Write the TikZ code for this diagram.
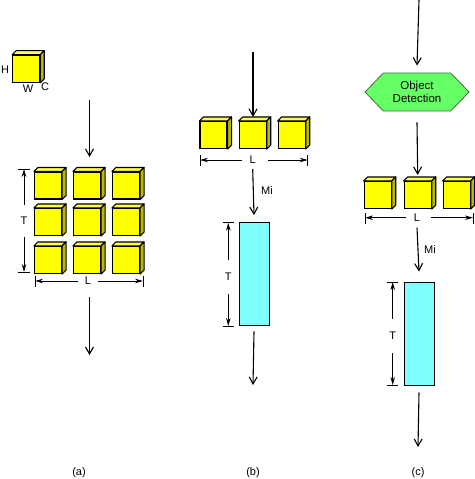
\documentclass[tikz,border=0pt]{standalone}
\usepackage{fontspec}
\setmainfont{Liberation Sans}
\usetikzlibrary{arrows.meta,shapes.symbols}
\definecolor{cubey}{RGB}{255,255,0}
\definecolor{cubeside}{RGB}{185,185,0}
\definecolor{cubetop}{RGB}{255,255,80}
\definecolor{barcyan}{RGB}{128,255,255}
\definecolor{hexgreen}{RGB}{102,255,102}
\definecolor{hexborder}{RGB}{60,110,60}
\newcommand\mycube[3]{%
  \node[cubefront] (#1) at (#2,#3) {};
  \filldraw[cubetopf] (#1.north west) -- ++(4,-4) -- ([shift={(4,-4)}]#1.north east) -- (#1.north east) -- cycle;
  \filldraw[cubesidef] (#1.north east) -- ++(4,-4) -- ([shift={(4,-4)}]#1.south east) -- (#1.south east) -- cycle;}
\begin{document}
\begin{tikzpicture}[x=1pt,y=-1pt,
  lbl/.style={font=\fontsize{11}{13}\selectfont, inner sep=1pt},
  cubefront/.style={draw, fill=cubey, line width=1.1pt, minimum width=27, minimum height=27, inner sep=0pt},
  cubetopf/.style={draw, fill=cubetop, line width=1.1pt, line join=round},
  cubesidef/.style={draw, fill=cubeside, line width=1.1pt, line join=round},
  barbox/.style={draw, fill=barcyan, line width=1pt, minimum width=30, inner sep=0pt},
  flow/.style={-{Straight Barb[length=7pt,width=8pt]}, line width=1.1pt},
  dimarr/.style={-{Stealth[length=8pt,width=4.5pt]}, line width=0.9pt},
  tickl/.style={line width=0.9pt},
  hexnode/.style={signal, signal to=west and east, signal pointer angle=92, draw=hexborder, fill=hexgreen, line width=0.8pt, minimum width=104, minimum height=38, align=center, inner sep=1pt, font=\fontsize{11.5}{13.5}\selectfont}]
\path[use as bounding box] (0,0) rectangle (474,479);

% ---------- legend cube ----------
\mycube{c0}{26.2}{68.7}
\node[lbl] (lH) at (5,70) {H};
\node[lbl] (lW) at (28,89) {W};
\node[lbl] (lC) at (45,87) {C};

% ---------- (a) ----------
\coordinate (a0) at (89.5,100);
\coordinate (a1) at (89.5,157);
\draw[flow] (a0) -- (a1);
\mycube{a11}{48}{185.5}
\mycube{a12}{87}{185.5}
\mycube{a13}{126}{185.5}
\mycube{a21}{48}{222}
\mycube{a22}{87}{222}
\mycube{a23}{126}{222}
\mycube{a31}{48}{260}
\mycube{a32}{87}{260}
\mycube{a33}{126}{260}
% T dimension
\coordinate (aTt) at (24,169);
\coordinate (aTb) at (24,272);
\node[lbl] (aT) at (24,221) {T};
\draw[tickl] ([xshift=-6]aTt) -- ([xshift=6]aTt);
\draw[tickl] ([xshift=-6]aTb) -- ([xshift=6]aTb);
\draw[dimarr] ([yshift=16]aT.center) -- (aTt);
\draw[dimarr] ([yshift=-16]aT.center) -- (aTb);
% L dimension
\coordinate (aLl) at (35,281);
\coordinate (aLr) at (143,281);
\node[lbl] (aL) at (88,281) {L};
\draw[tickl] ([yshift=5]aLl) -- ([yshift=-6]aLl);
\draw[tickl] ([yshift=5]aLr) -- ([yshift=-6]aLr);
\draw[dimarr] ([xshift=-10]aL.center) -- (aLl);
\draw[dimarr] ([xshift=10]aL.center) -- (aLr);
\coordinate (a2) at (89.5,297);
\coordinate (a3) at (89.5,355);
\draw[flow] (a2) -- (a3);
\node[lbl] (capa) at (79,473) {(a)};

% ---------- (b) ----------
\coordinate (b0) at (253,52);
\coordinate (b1) at (253,117);
\draw[flow] (b0) -- (b1);
\mycube{b11}{213.5}{135}
\mycube{b12}{252.7}{135}
\mycube{b13}{291.7}{135}
\coordinate (bLl) at (200,160);
\coordinate (bLr) at (307.7,160);
\node[lbl] (bL) at (252.7,160) {L};
\draw[tickl] ([yshift=5]bLl) -- ([yshift=-6]bLl);
\draw[tickl] ([yshift=5]bLr) -- ([yshift=-6]bLr);
\draw[dimarr] ([xshift=-11]bL.center) -- (bLl);
\draw[dimarr] ([xshift=15]bL.center) -- (bLr);
\node[barbox, minimum height=103.3] (bbar) at (254,274.3) {};
\draw[flow] ([yshift=-9]bL.center) -- ([yshift=7]bbar.north);
\node[lbl] (bMi) at (267,191) {Mi};
\coordinate (bTt) at (228.3,222.7);
\coordinate (bTb) at (228.3,326);
\node[lbl] (bT) at (228.3,277) {T};
\draw[tickl] ([xshift=-5.5]bTt) -- ([xshift=5.5]bTt);
\draw[tickl] ([xshift=-5.5]bTb) -- ([xshift=5.5]bTb);
\draw[dimarr] ([yshift=17]bT.center) -- (bTt);
\draw[dimarr] ([yshift=-17]bT.center) -- (bTb);
\coordinate (b3) at (253,385);
\draw[flow] ([yshift=-5]bbar.south) -- (b3);
\node[lbl] (capb) at (253,473) {(b)};

% ---------- (c) ----------
\node[hexnode] (od) at (417,92) {Object\\Detection};
\coordinate (c0) at (419,0);
\draw[flow] (c0) -- ([yshift=7]od.north);
\mycube{c11}{377.7}{195}
\mycube{c12}{417.7}{195}
\mycube{c13}{456.7}{195}
\draw[flow] ([yshift=-11]od.south) -- ([yshift=6]c12.north);
\coordinate (cLl) at (365,217.7);
\coordinate (cLr) at (473,217.7);
\node[lbl] (cL) at (417,217.7) {L};
\draw[tickl] ([yshift=5]cLl) -- ([yshift=-6]cLl);
\draw[tickl] ([yshift=5]cLr) -- ([yshift=-6]cLr);
\draw[dimarr] ([xshift=-11]cL.center) -- (cLl);
\draw[dimarr] ([xshift=14]cL.center) -- (cLr);
\node[barbox, minimum height=103] (cbar) at (419,333.5) {};
\draw[flow] ([yshift=-10]cL.center) -- ([yshift=10]cbar.north);
\node[lbl] (cMi) at (430,250) {Mi};
\coordinate (cTt) at (392.7,282);
\coordinate (cTb) at (392.7,385);
\node[lbl] (cT) at (392.7,336) {T};
\draw[tickl] ([xshift=-5.5]cTt) -- ([xshift=5.5]cTt);
\draw[tickl] ([xshift=-5.5]cTb) -- ([xshift=5.5]cTb);
\draw[dimarr] ([yshift=17]cT.center) -- (cTt);
\draw[dimarr] ([yshift=-17]cT.center) -- (cTb);
\coordinate (c3) at (418,447);
\draw[flow] ([yshift=-7]cbar.south) -- (c3);
\node[lbl] (capc) at (418,473) {(c)};
\end{tikzpicture}
\end{document}
